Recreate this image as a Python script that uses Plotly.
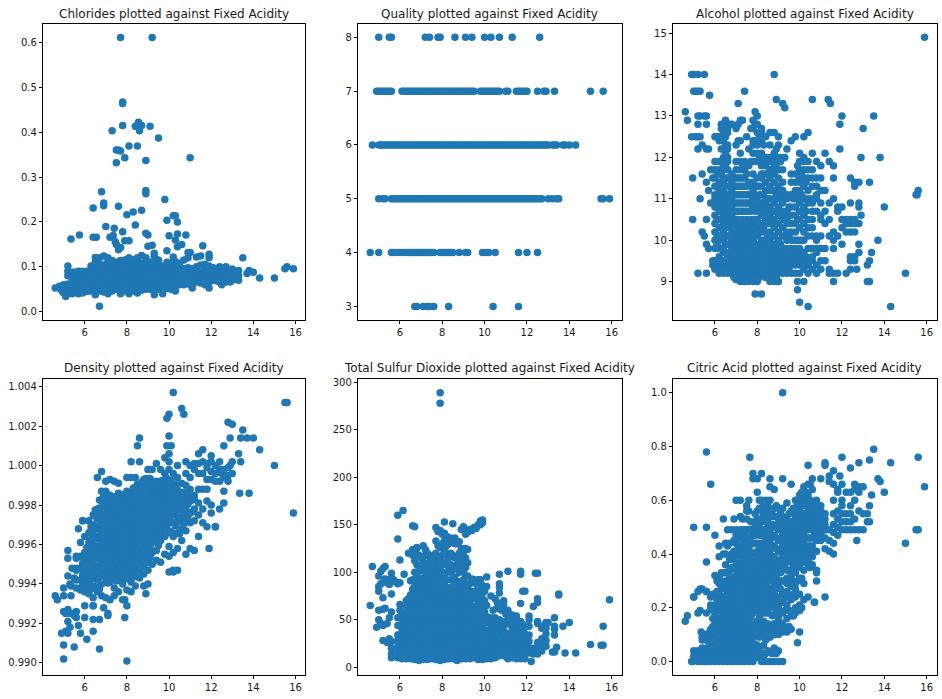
import plotly.graph_objects as go

# ---------- data: (fixed acidity, [values...]) columns plus stray points ----------
chlorides_cols = [
 (5.0,[.045,.052,.06]),(5.2,[.042,.05,.062,.08,.09,.102]),(5.4,[.04,.05,.06,.075,.088]),(5.5,[.044,.056,.07,.088]),(5.7,[.04,.052,.064,.078,.09]),
 (5.9,[.042,.055,.067,.08,.09]),(6.1,[.045,.058,.07,.082,.09]),(6.3,[.046,.057,.068,.08,.092,.102]),
 (6.5,[.038,.05,.062,.074,.086,.098,.11,.121]),(6.7,[.046,.058,.07,.082,.094,.106,.12]),
 (6.9,[.044,.056,.068,.08,.092,.104,.124]),(7.1,[.04,.052,.064,.076,.088,.1,.112,.12]),
 (7.3,[.046,.058,.07,.082,.094,.106,.114]),(7.5,[.05,.062,.074,.086,.098,.11]),
 (7.7,[.04,.054,.066,.078,.09,.102,.114]),(7.9,[.046,.058,.07,.082,.094,.106,.115]),
 (8.1,[.04,.052,.064,.076,.088,.1,.112,.12]),(8.3,[.046,.058,.07,.082,.094,.106,.116]),
 (8.5,[.042,.054,.066,.078,.09,.102,.114,.12]),(8.7,[.048,.06,.072,.084,.096,.108,.125]),
 (8.9,[.05,.062,.074,.086,.098,.11,.12]),(9.1,[.05,.062,.074,.086,.098,.11]),
 (9.3,[.054,.066,.078,.09,.102,.11]),(9.5,[.05,.062,.074,.086,.098,.108]),
 (9.7,[.056,.068,.08,.092,.102]),(9.9,[.052,.064,.076,.088,.1,.11]),
 (10.1,[.05,.062,.074,.086,.098,.108]),(10.3,[.056,.068,.08,.092,.102,.112]),
 (10.5,[.06,.072,.084,.096,.108]),(10.7,[.06,.072,.084,.096,.115]),
 (10.9,[.062,.074,.086,.098,.12]),(11.1,[.06,.072,.084,.096]),(11.3,[.066,.078,.09,.1]),
 (11.5,[.064,.076,.088,.104]),(11.7,[.06,.072,.084,.096,.106]),(11.9,[.066,.078,.09,.102]),
 (12.1,[.07,.08,.09,.098]),(12.3,[.068,.08,.09]),(12.5,[.06,.072,.084,.094]),
 (12.7,[.066,.078,.09]),(12.9,[.066,.078,.09]),(13.1,[.072,.084]),(13.3,[.07,.08]),
]
chlorides_extra_x = [7.7,9.2,7.8,7.8,7.3,7.8,8.4,8.55,8.6,8.7,8.6,8.5,9.1,9.5,7.5,7.6,7.7,8.1,8.5,7.9,7.5,8.9,11.0,6.8,8.9,8.9,9.8,6.9,6.9,6.4,7.6,8.0,8.3,8.7,10.2,10.3,9.9,10.4,7.0,8.4,7.4,7.8,8.9,9.0,5.35,5.75,6.4,6.55,7.2,7.35,7.45,7.5,7.9,8.1,10.0,10.3,10.4,10.8,10.6,10.4,9.0,9.2,7.6,7.7,9.9,11.6,9.3,9.3,9.5,10.2,10.9,11.0,11.3,11.5,11.9,11.9,13.5,15.5,15.6,15.9,14.3,15.0,14.0,13.8,13.7,13.3,13.0,12.7,12.4,6.7,5.1,4.6,4.8,4.9,5.0,9.3,9.7,10.3,11.9,11.1]
chlorides_extra_y = [.611,.611,.467,.464,.403,.415,.413,.422,.415,.415,.403,.415,.413,.387,.36,.36,.358,.369,.369,.343,.332,.337,.343,.267,.27,.263,.25,.242,.236,.231,.235,.216,.222,.226,.214,.214,.204,.2,.19,.193,.186,.178,.175,.171,.162,.171,.166,.166,.166,.17,.156,.15,.158,.158,.169,.16,.173,.171,.15,.145,.146,.148,.138,.143,.136,.147,.13,.123,.115,.122,.132,.132,.122,.124,.128,.12,.12,.096,.1,.096,.075,.075,.088,.092,.085,.092,.095,.1,.1,.012,.034,.053,.057,.048,.042,.038,.04,.046,.053,.053]

quality_3 = [6.7,6.8,7.1,7.3,7.4,7.6,8.3,10.4,11.6]
quality_4 = [4.6,5.0,5.6,5.7,5.8,6.0,6.2,6.3,6.4,6.5,6.6,6.7,6.8,6.9,7.0,7.1,7.2,7.3,7.4,7.5,7.6,7.9,8.0,8.1,8.2,8.3,8.4,8.5,8.8,9.1,9.2,9.9,10.1,10.2,10.5,11.6,12.0,12.5]
quality_5 = [5.0,5.2,5.3,5.6,5.7,5.8,5.9,6.0,6.1,6.2,6.3,6.4,6.5,6.6,6.7,6.8,6.9,7.0,7.1,7.2,7.3,7.4,7.5,7.6,7.7,7.8,7.9,8.0,8.1,8.2,8.3,8.4,8.5,8.6,8.7,8.8,8.9,9.0,9.1,9.2,9.3,9.4,9.5,9.6,9.7,9.8,9.9,10.0,10.1,10.2,10.3,10.4,10.5,10.6,10.7,10.8,10.9,11.0,11.1,11.2,11.3,11.4,11.5,11.6,11.7,11.8,11.9,12.0,12.1,12.2,12.3,12.4,12.5,12.6,12.7,13.0,13.2,13.4,13.5,15.5,15.6,15.9]
quality_6 = [4.7,5.0,5.1,5.2,5.3,5.4,5.5,5.6,5.7,5.8,5.9,6.0,6.1,6.2,6.3,6.4,6.5,6.6,6.7,6.8,6.9,7.0,7.1,7.2,7.3,7.4,7.5,7.6,7.7,7.8,7.9,8.0,8.1,8.2,8.3,8.4,8.5,8.6,8.7,8.8,8.9,9.0,9.1,9.2,9.3,9.4,9.5,9.6,9.7,9.8,9.9,10.0,10.1,10.2,10.3,10.4,10.5,10.6,10.7,10.8,10.9,11.0,11.1,11.2,11.3,11.4,11.5,11.6,11.7,11.8,11.9,12.0,12.1,12.2,12.3,12.4,12.5,12.6,12.7,12.8,12.9,13.0,13.2,13.3,13.4,13.7,13.8,14.0,14.3]
quality_7 = [4.9,5.0,5.1,5.2,5.3,5.4,5.5,5.6,6.1,6.2,6.3,6.4,6.5,6.6,6.7,6.8,6.9,7.0,7.1,7.2,7.3,7.4,7.5,7.6,7.7,7.8,7.9,8.0,8.1,8.2,8.3,8.4,8.5,8.6,8.7,8.8,8.9,9.0,9.1,9.2,9.3,9.4,9.5,9.8,9.9,10.0,10.1,10.2,10.3,10.4,10.5,10.6,10.7,11.0,11.1,11.5,11.6,11.7,11.8,11.9,12.0,12.5,12.8,12.9,13.3,15.0,15.6]
quality_8 = [5.0,5.5,5.6,7.2,7.4,7.8,7.9,8.6,9.1,9.4,10.0,10.3,10.7,11.3,12.6]

alcohol_cols = [
 (6.0,[9.5,9.8,10.2,10.6,10.8,11.1,11.5,11.7]),(6.2,[9.2,9.4,10.0,10.3,10.7,11.0,11.4,11.6,11.9]),
 (6.4,[9.2,9.4,9.7,10.0,10.4,10.6,10.9,11.2,11.4,11.7,12.0,12.4,12.8]),
 (6.6,[9.2,9.4,9.6,9.9,10.1,10.4,10.6,10.8,11.0,11.3,11.5,11.7,12.0,12.2,12.6]),
 (6.8,[9.2,9.4,9.6,9.8,10.0,10.2,10.4,10.6,10.8,11.0,11.2,11.4]),
 (7.0,[9.05,9.2,9.4,9.6,9.8,10.0,10.2,10.4,10.5,10.7,10.9,11.1,11.3,11.5,11.9]),
 (7.2,[9.0,9.2,9.4,9.6,9.8,10.0,10.2,10.4,10.7,10.9,11.1,11.3,11.5,12.1,12.4]),
 (7.4,[9.0,9.2,9.4,9.6,9.8,10.0,10.2,10.4,10.7,10.9,11.1,11.3,11.5,11.7,11.9]),
 (7.6,[9.0,9.2,9.4,9.6,9.8,10.0,10.2,10.4,10.7,10.9,11.1,11.4,11.8,12.2]),
 (7.8,[9.0,9.2,9.4,9.6,9.8,10.0,10.2,10.4,10.8,11.0,11.2,11.9,12.1,12.4,12.7]),
 (8.0,[9.0,9.2,9.4,9.6,9.8,10.1,10.3,10.5,10.8,11.0,11.3,12.3,12.8]),
 (8.2,[9.2,9.4,9.6,9.8,10.0,10.4,10.6,10.9,11.1,11.5,11.8,12.1,12.4,12.7]),
 (8.4,[9.1,9.3,9.5,9.7,9.9,10.2,10.5,10.9,11.2,11.4,11.8,12.0,12.5]),
 (8.6,[9.0,9.2,9.4,9.6,9.8,10.2,10.4,10.6,11.0,11.3,11.7,12.0,12.6]),
 (8.8,[9.0,9.2,9.4,9.6,9.9,10.3,10.5,10.9,11.2,11.6,11.9,12.1,12.6]),
 (9.0,[9.2,9.4,9.6,9.8,10.2,10.4,10.8,11.0,11.3,11.7,12.0,12.3,12.5]),
 (9.2,[9.4,9.6,9.8,10.3,10.5,10.9,11.2,11.7,12.0]),(9.4,[9.2,9.4,9.6,10.0,10.4,10.7,11.0,12.2]),
 (9.6,[9.4,9.6,9.8,10.0,10.2,10.6,11.4,12.4]),(9.8,[9.4,9.6,9.8,10.0,10.4,10.8,11.2,11.6,12.5]),
 (10.0,[9.4,9.6,9.8,10.0,10.3,10.7,11.0,11.4,11.7,12.1]),(10.2,[9.3,9.5,10.0,10.4,10.8,11.3,11.7,12.0,12.5]),
 (10.4,[9.2,9.5,9.8,10.3,10.9,11.2,11.5,11.9,12.6]),(10.6,[9.3,9.6,10.1,10.5,10.9,11.3,11.7,12.1]),
 (10.8,[9.4,9.7,10.0,10.7,11.1,11.5,11.9]),(11.0,[9.5,10.1,10.5,10.9,11.5,11.8]),
 (11.2,[9.5,9.8,10.4,10.7,11.2,12.1]),(11.4,[9.2,9.3,10.1,10.5,10.9,11.9]),
 (11.6,[9.2,9.0,9.8,10.0,10.2,11.0,11.5,11.8]),(11.8,[9.2,10.1,10.8,10.7]),(12.0,[9.9,10.3,10.5,10.8]),
 (12.2,[9.2,10.2,10.4,10.5]),(12.4,[9.3,9.5,9.6,10.2,10.4,10.5,10.9,11.5]),
 (12.6,[9.5,9.6,10.2,10.4,10.5,11.4,11.3]),(12.8,[9.7,9.9,10.4,10.8,10.9,11.4]),
]
alcohol_fill = [
 (5.9,[9.4,9.5]),(6.1,[9.3,9.5,9.9,10.1,10.5,10.9,11.3,11.6]),(6.3,[9.3,9.5,9.8,10.1,10.3,10.5,10.8,11.1,11.3,11.6,11.9,12.2,12.7]),
 (6.5,[9.3,9.5,9.7,9.9,10.1,10.3,10.5,10.7,10.9,11.1,11.3,11.5,11.8,12.1,12.3,12.5,12.9]),
 (6.7,[9.3,9.5,9.7,9.9,10.1,10.3,10.5,10.7,10.9,11.1,11.3,11.5,12.8]),
 (6.9,[9.1,9.3,9.5,9.7,9.9,10.1,10.3,10.5,10.7,10.9,11.1,11.3,11.5]),
 (7.1,[9.1,9.3,9.5,9.7,9.9,10.1,10.3,10.5,10.7,10.9,11.1,11.3,11.5,12.4,12.8]),
 (7.3,[9.1,9.3,9.5,9.7,9.9,10.1,10.3,10.5,10.7,10.9,11.1,11.3,11.5,11.8,12.9]),
 (7.5,[9.1,9.3,9.5,9.7,9.9,10.1,10.3,10.5,10.7,10.9,11.1,11.3,11.6,12.5]),
 (7.7,[9.1,9.3,9.5,9.7,9.9,10.1,10.3,10.5,10.7,10.9,11.1,11.3,11.9,12.7]),
 (7.9,[9.1,9.3,9.5,9.7,9.9,10.1,10.3,10.5,10.7,10.9,11.1,11.3,12.4,12.8]),
 (8.1,[9.1,9.3,9.5,9.7,9.9,10.2,10.4,10.7,10.9,11.1,11.3,12.0,12.5]),
 (8.3,[9.2,9.4,9.6,9.8,10.0,10.3,10.6,10.8,11.1,11.6,11.9,12.3]),
 (8.5,[9.1,9.3,9.5,9.7,9.9,10.1,10.4,10.7,11.0,11.6,11.9]),(8.7,[9.1,9.3,9.5,9.7,10.1,10.5,11.2,11.7,12.0]),
 (8.9,[9.1,9.3,9.5,9.7,10.4,10.7,11.1,11.8,12.2]),(9.1,[9.3,9.5,9.7,9.9,10.6,11.1,11.9]),
 (9.3,[9.3,9.5,9.7,10.1,10.6,12.0]),(9.5,[9.3,9.5,9.7,10.1,10.8]),(9.7,[9.5,9.7,10.0,11.0]),
 (9.9,[9.5,9.7,10.0,10.5,11.1,11.8]),(10.1,[9.5,9.7,10.0,11.1,11.6]),(10.3,[9.4,9.6,10.7,11.4]),
]
alcohol_fill_2 = [
 (6.0,[9.3,10.0,10.4,11.0,11.3,11.9]),(6.2,[9.6,9.8,10.1,10.5,10.9,11.2,11.7,12.5]),(6.4,[9.5,9.8,10.2,11.0,11.5,11.8,12.2,12.6]),
 (6.6,[11.1,11.9,12.3,12.7]),(6.8,[11.6,12.8]),(7.0,[11.7,12.3,12.7]),(7.2,[11.7,11.9,12.9]),
 (7.8,[11.4,11.6,12.3,12.9]),(8.0,[11.5,11.9,12.1,12.6]),(8.2,[10.2,11.3,11.6,12.6]),(8.4,[10.0,10.4,10.7,11.0,11.6]),
 (8.6,[10.0,10.8,11.2,11.5,11.9,12.3]),(8.8,[9.8,10.1,10.7,11.0,11.4,11.8]),(9.0,[9.0,10.0,10.6,11.2,11.5,11.9]),
 (9.2,[9.2,10.1,10.7,11.0,11.4]),(9.4,[9.8,10.2,10.5,11.1]),(9.6,[9.2,10.4,10.8,11.1,11.6]),(9.8,[9.2,10.2,10.6,11.0,11.4]),
 (10.0,[9.2,10.5,10.9,11.2,11.5,11.9]),(10.2,[9.7,10.2,10.6,11.0,11.5,11.9]),(10.4,[9.4,10.1,10.5,11.0,11.7]),
 (10.6,[9.5,9.8,10.3,10.7,11.0,11.5]),(10.8,[9.2,9.8,10.1,11.0,11.3]),(11.0,[9.3,9.8,10.6,11.2]),
]
alcohol_extra_x = [4.6,4.7,4.9,5.0,5.2,5.5,5.0,5.2,5.3,5.1,5.75,5.2,5.3,5.5,5.6,5.2,5.6,4.9,5.2,5.3,5.1,5.2,5.4,5.6,4.95,5.4,5.6,5.3,4.95,5.6,5.4,5.5,5.6,5.7,5.2,5.6,5.7,5.8,5.9,5.8,5.7,6.0,6.1,6.2,6.3,7.1,7.4,8.8,7.9,8.0,8.9,9.2,9.3,10.6,11.35,11.45,11.9,12.0,13.5,13.0,12.9,11.9,13.8,13.3,14.0,15.5,15.6,15.55,15.0,15.9,14.3,13.7,13.4,13.3,13.2,13.3,13.2,12.7,10.0,9.9,9.9,10.4,10.2,7.9,8.2,12.9]
alcohol_extra_y = [13.1,12.9,14.0,14.0,14.0,14.0,13.6,13.6,13.6,13.6,13.5,13.0,13.0,13.0,13.0,12.8,12.8,12.5,12.5,12.5,12.5,12.2,12.3,12.2,11.5,11.6,11.4,11.0,10.5,10.5,10.2,10.1,9.9,9.8,9.2,9.2,11.2,10.9,11.5,11.7,12.2,12.5,12.5,12.4,12.8,13.3,13.6,14.0,13.1,13.0,13.4,13.3,13.2,13.4,13.4,13.3,12.8,13.0,13.0,12.7,12.0,12.2,12.0,11.4,10.8,11.1,11.2,11.1,9.2,14.9,8.4,10.0,9.7,9.5,9.4,9.0,9.0,9.3,8.5,8.8,9.0,8.4,9.0,8.7,8.7,10.6]

density_cols = [
 (5.6,[.9938,.9942,.9948,.9953]),(5.8,[.9937,.9942,.9948,.9954,.9961]),(6.0,[.9936,.9941,.9946,.9951,.9956,.9964]),
 (6.2,[.9935,.994,.9946,.9951,.9956,.9961,.9966,.9972]),(6.4,[.9933,.9939,.9945,.995,.9955,.996,.9965,.997,.9975]),
 (6.6,[.9936,.9942,.9948,.9953,.9958,.9963,.9968,.9973,.9978,.9994]),(6.8,[.9934,.994,.9946,.9951,.9956,.9961,.9966,.9971,.9976,.9982,.9987,.9997]),
 (7.0,[.9933,.9943,.9948,.9953,.9958,.9963,.9968,.9973,.9978,.9983,.9987,.9992]),
 (7.2,[.9932,.9941,.9946,.9951,.9956,.9961,.9966,.9971,.9976,.9981,.9985,.9993]),
 (7.4,[.9934,.9938,.9944,.9949,.9954,.9959,.9964,.9969,.9974,.9979,.9984,.9992]),
 (7.6,[.9936,.9942,.9947,.9952,.9957,.9962,.9967,.9972,.9977,.9982,.9986,.9991]),
 (7.8,[.9932,.994,.9945,.995,.9955,.996,.9965,.997,.9975,.998,.9985]),
 (8.0,[.9937,.9943,.9948,.9953,.9958,.9963,.9968,.9973,.9978,.9983,.9987,.9994]),
 (8.2,[.9936,.9941,.9946,.9951,.9956,.9961,.9966,.9971,.9976,.9981,.9986,.9994,1.0002]),
 (8.4,[.9939,.9944,.9949,.9954,.9959,.9964,.9969,.9974,.9979,.9984,.9989,.9994]),
 (8.6,[.9943,.9948,.9953,.9958,.9963,.9968,.9973,.9978,.9983,.9988,1.0002]),
 (8.8,[.9939,.9945,.995,.9955,.996,.9965,.997,.9975,.998,.9985,.999,.9993]),
 (9.0,[.994,.9947,.9952,.9957,.9962,.9967,.9972,.9977,.9982,.9987,.9992,.9998]),
 (9.2,[.995,.9956,.9961,.9966,.9971,.9976,.9981,.9986,.9991,.9998]),
 (9.4,[.9952,.9957,.9963,.9968,.9973,.9978,.9983,.9988,.9992,1.0001]),
 (9.6,[.9951,.9962,.9967,.9972,.9977,.9982,.9987,.9992,.9998]),
 (9.8,[.9955,.9964,.997,.9975,.998,.9985,.999,.9996,1.0004]),
 (10.0,[.9946,.9954,.9959,.9966,.9971,.9976,.9981,.9986,.9991,.9998,1.0002,1.0006]),
 (10.2,[.9946,.9947,.9956,.9964,.9975,.998,.9985,.999,.9996]),
 (10.4,[.9947,.9958,.9966,.9972,.9978,.9983,.9988,.9994,1.0]),
 (10.6,[.9962,.9968,.9974,.998,.9985,.9991]),(10.8,[.9955,.9967,.9973,.9978,.9984,.999,.9996,1.0002]),
 (11.0,[.9958,.9971,.9976,.9982,.9988,.9994,1.0]),(11.2,[.9957,.9972,.9978,.9983,.9985,.9998,1.0001]),
 (11.4,[.9964,.9975,.9981,.9988,.9996,1.0001,1.0006]),(11.6,[.9971,.9978,.9988,.9996,1.0002,1.0008]),
 (11.8,[.9969,.9982,.9988,.9993,.9999,1.0001]),(12.0,[.9976,.998,.9993,.9997,1.0002,1.0005]),
 (12.2,[.9969,.9992,.9996,1.0]),(12.4,[.9978,.9992,.9998,1.0002]),(12.6,[.9981,.9987,.9994,.9998,1.001]),
 (12.8,[.9992,.9995,.9999]),(13.0,[.9996,1.0002]),
]
density_fill = [
 (5.9,[.99395,.99445,.99505]),(6.1,[.99385,.99435,.99485,.99535,.99585]),
 (6.3,[.99375,.99425,.99475,.99525,.99575,.99625,.99675,.99695]),
 (6.5,[.99385,.99445,.99495,.99545,.99595,.99645,.99695,.99745,.99775]),
 (6.7,[.99375,.99435,.99485,.99535,.99585,.99635,.99685,.99735,.99785,.99825]),
 (6.9,[.99445,.99495,.99545,.99595,.99645,.99695,.99745,.99795,.99845,.99865]),
 (7.1,[.99405,.99455,.99505,.99555,.99605,.99655,.99705,.99755,.99805,.99845]),
 (7.3,[.99435,.99485,.99535,.99585,.99635,.99685,.99735,.99785,.99835]),
 (7.5,[.99415,.99465,.99515,.99565,.99615,.99665,.99715,.99765,.99815,.99845]),
 (7.7,[.99445,.99495,.99545,.99595,.99645,.99695,.99745,.99795,.99835]),
 (7.9,[.99425,.99475,.99525,.99575,.99625,.99675,.99725,.99775,.99825,.99855]),
 (8.1,[.99455,.99505,.99555,.99605,.99655,.99705,.99755,.99805,.99855]),
 (8.3,[.99435,.99485,.99535,.99585,.99635,.99685,.99735,.99785,.99835,.99885]),
 (8.5,[.99465,.99515,.99565,.99615,.99665,.99715,.99765,.99815,.99865,.99905]),
 (8.7,[.99485,.99535,.99585,.99635,.99685,.99735,.99785,.99835,.99885,.99915]),
 (8.9,[.99505,.99555,.99605,.99655,.99705,.99755,.99805,.99855,.99905,.99935]),
 (9.1,[.99535,.99585,.99635,.99685,.99735,.99785,.99835,.99885,.99935]),
 (9.3,[.99615,.99665,.99715,.99765,.99815,.99865,.99915]),
 (9.5,[.99595,.99645,.99695,.99745,.99795,.99845,.99895]),
 (9.7,[.99675,.99725,.99775,.99825,.99875,.99925]),
 (9.9,[.99685,.99735,.99785,.99835,.99885,.99935]),
 (10.1,[.99665,.99715,.99775,.99825,.99875,.99925]),
 (10.3,[.99695,.99755,.99805,.99855,.99905]),(10.5,[.99655,.99715,.99775,.99825,.99865]),
 (10.7,[.99705,.99755,.99815,.99865]),(10.9,[.99745,.99805,.99855]),(11.1,[.99765,.99825]),
]
density_extra_x = [4.6,4.7,5.0,5.0,5.0,5.0,4.9,5.1,5.2,5.2,5.2,5.0,5.1,5.2,5.3,5.4,5.5,5.6,5.6,5.5,5.7,5.8,6.0,6.0,6.1,5.35,5.35,5.2,5.2,5.2,5.6,5.6,5.9,6.4,6.4,6.7,6.4,6.4,6.7,6.9,7.1,7.1,7.9,8.0,7.9,8.0,5.4,5.3,5.5,5.7,5.9,15.5,15.6,15.9,15.0,14.3,14.0,13.7,13.4,12.9,13.5,13.3,13.4,13.35,13.8,12.8,13.0,10.2,10.7,10.6,10.0,9.9,8.6,8.5,9.9,10.0,10.1,12.5,11.9,12.2,12.9,8.9]
density_extra_y = [.9934,.9932,.9938,.9934,.9909,.9902,.9915,.9916,.9915,.9921,.9927,.9926,.9925,.9925,.9918,.9925,.9924,.9926,.9923,.9908,.9919,.9915,.9929,.9923,.9912,.9934,.9939,.9944,.9953,.9957,.9954,.9947,.9972,.9929,.9922,.9907,.9916,.9929,.9922,.9928,.9925,.9924,.9923,.9901,.9932,.9929,.9948,.994,.9943,.9968,.9972,1.0032,1.0032,.9976,1.0,1.0008,1.0014,1.0014,1.0014,1.0014,1.0018,1.0006,1.0002,.9986,.9986,1.0022,1.0021,1.0037,1.0026,1.0029,1.0026,1.0024,1.0014,1.001,1.001,1.0015,1.001,.9996,.9958,.9969,1.0,.9935]

tsd_cols = [
 (5.6,[10,14,20,27]),(5.9,[10,16,22,28,34,44,52]),(6.1,[9,15,21,27,33,39,45,51,57]),
 (6.3,[9,15,21,27,33,39,45,51,57,64,70]),(6.5,[9,15,21,27,33,39,45,51,57,63,69,76]),
 (6.7,[8,14,20,26,32,38,44,50,56,62,68,74,80,86,100,112,122]),(6.9,[7,13,19,25,31,37,43,49,55,61,67,73,84,101,118]),
 (7.1,[8,14,20,26,32,38,44,50,56,62,68,74,80,88,94,111,128]),(7.3,[8,14,20,26,32,38,44,50,56,62,68,74,82,90,98,106,120]),
 (7.5,[9,15,21,27,33,39,45,51,57,63,69,75,81,87,93,99,105]),(7.7,[8,14,20,26,32,38,44,50,56,62,68,76,84,92,100,108,120,133,147]),
 (7.9,[7,13,19,25,31,37,43,49,55,61,67,77,85,93,105,115,126,144]),(8.1,[8,14,20,26,32,38,44,50,56,62,68,78,88,98,110,122,133,141,153]),
 (8.3,[9,15,21,27,33,39,45,51,57,63,69,80,102,115,130]),(8.5,[9,15,21,27,33,39,45,51,57,63,69,75,82,91,103,118,134,151]),
 (8.7,[7,13,19,25,31,37,43,49,55,61,67,73,79,87,108,130]),(8.9,[9,15,21,27,33,39,45,51,57,63,69,75,84,104,113,125,145]),
 (9.1,[9,15,21,27,33,39,45,51,57,63,69,76,88,96,105,115,125,140]),(9.3,[9,15,21,27,33,39,45,51,57,63,70,88,145]),
 (9.5,[10,16,22,28,34,40,46,52,58,64,72,92,147]),(9.7,[8,14,20,26,32,38,44,50,56,62,68,84,92,150]),
 (9.9,[8,14,20,26,32,38,44,52,60,66,72,78,86,152,155]),(10.1,[9,15,21,27,33,39,47,53,65,85,95]),
 (10.3,[9,16,22,28,36,44,52,75]),(10.5,[10,16,22,30,38,52,72]),(10.7,[12,18,24,35,40,50,78,84,88,98]),
 (10.9,[14,20,28,38,44,66,70]),(11.1,[9,14,20,26,33,50,60,101]),(11.3,[10,16,22,42,48,55]),
 (11.5,[9,15,21,27,34,42,50,54]),(11.7,[9,15,21,28,35,40,48,67,98,101]),(11.9,[9,15,22,28,35,42,80]),
 (12.1,[15,20,27,34,43,50,54]),(12.3,[14,20,64]),(12.5,[14,20,26,46,48,68,72,99]),(12.7,[17,24,30,41,43]),
 (12.9,[22,28,35,41,47]),(13.3,[34,40,43,52,16]),
]
tsd_fill = [
 (6.0,[60,66]),(6.4,[72,60]),(6.6,[74,82,92,118]),(6.8,[72,80,90,96,108,126]),(7.0,[76,84,92,104,115]),
 (7.2,[72,84,93,100,108,118,124]),(7.4,[78,86,95,102,110,116]),(7.6,[74,82,90,98,106,112,118]),
 (7.8,[72,80,88,96,104,114,128,143]),(8.0,[74,82,90,100,108,118,130,140]),(8.2,[72,84,92,100,108,118,128,138]),
 (8.4,[75,84,92,100,108,120,136]),(8.6,[78,86,95,105,115,130,136]),(8.8,[82,90,100,112,120,132]),
 (9.0,[80,92,100,110,118,148]),(9.2,[74,82,96,110,124,142]),(9.4,[74,80,93,144]),(9.6,[74,80,88,146]),(9.8,[74,80,92,150,154]),
 (10.0,[12,24,36,48,58,70,80]),(10.4,[12,19,25,33,41,48,60]),(10.6,[13,20,27,34,46,62,68]),(10.8,[15,22,31,42,48,60]),
 (11.0,[11,17,24,31,48,56]),(11.2,[12,18,29,36,45]),(11.4,[12,18,24,31,38,47]),(11.6,[12,18,25,31,37,46]),(11.8,[12,18,25,32,38,45]),
]
tsd_extra_x = [7.9,7.9,6.15,5.9,6.6,6.7,5.9,6.0,4.7,4.6,5.0,5.0,5.1,5.2,5.2,5.3,5.0,5.0,5.1,5.2,5.3,5.4,5.5,5.6,5.6,5.7,5.8,5.9,6.0,6.2,6.5,5.6,5.2,4.9,5.0,5.1,5.2,5.3,5.4,5.5,5.6,5.2,5.4,5.5,6.6,6.8,6.4,12.2,13.2,13.4,13.8,14.3,15.0,15.5,15.6,15.9,15.6,14.0,13.7,13.5,13.0,13.5,11.8,12.4]
tsd_extra_y = [289,278,165,160,149,148,135,113,106,65,96,60,101,104,73,106,85,80,88,89,93,91,87,99,94,92,90,88,89,98,91,77,61,42,50,46,44,62,46,52,58,28,26,30,124,125,120,6,16,21,15,15,24,23,23,71,43,47,43,77,47,76,80,99]

citric_cols = [
 (5.6,[0,.02,.05,.08,.1,.18,.26]),(5.8,[0,.03,.06,.09,.12,.2,.24]),(6.0,[0,.03,.06,.09,.14,.18,.21,.25,.32,.47]),
 (6.2,[0,.02,.05,.08,.11,.15,.19,.22,.25,.29,.31,.39,.43]),(6.4,[0,.03,.06,.09,.12,.15,.18,.21,.24,.28,.33,.4,.53]),
 (6.6,[0,.02,.05,.08,.11,.14,.17,.2,.23,.26,.3,.33,.43,.49]),
 (6.8,[0,.03,.06,.09,.12,.15,.18,.21,.24,.27,.3,.35,.4,.49]),
 (7.0,[0,.02,.05,.08,.11,.14,.17,.2,.23,.26,.29,.32,.36,.4,.44,.49]),
 (7.2,[0,.03,.06,.09,.12,.15,.18,.21,.24,.27,.3,.33,.36,.39,.42,.46,.49,.54,.6]),
 (7.4,[0,.02,.05,.08,.11,.14,.17,.2,.23,.26,.29,.32,.35,.38,.41,.44,.47,.49]),
 (7.6,[0,.03,.06,.09,.12,.15,.18,.21,.24,.27,.3,.33,.36,.39,.42,.49,.56,.6]),
 (7.8,[0,.02,.05,.09,.12,.18,.21,.24,.27,.3,.33,.36,.4,.44,.49,.68,.7]),
 (8.0,[.02,.06,.15,.19,.22,.25,.28,.31,.34,.37,.41,.44,.49,.53,.56,.63,.68]),
 (8.2,[0,.03,.1,.13,.18,.21,.24,.27,.3,.33,.36,.4,.44,.47,.49,.52,.6,.7]),
 (8.4,[0,.03,.08,.12,.18,.22,.26,.29,.32,.35,.39,.43,.46,.49,.53,.56,.6]),
 (8.6,[0,.09,.12,.2,.24,.27,.31,.34,.37,.41,.45,.47,.49,.51,.6,.65,.68]),
 (8.8,[0,.05,.1,.14,.21,.25,.29,.33,.36,.39,.43,.47,.5,.54,.57,.64]),
 (9.0,[0,.04,.1,.12,.16,.2,.24,.28,.34,.37,.41,.45,.49,.52,.57]),
 (9.2,[.0,.11,.14,.18,.22,.25,.3,.35,.39,.43,.47,.5,.54,.57,.68]),
 (9.4,[.11,.21,.26,.31,.37,.42,.45,.49,.53,.59]),(9.6,[.12,.17,.23,.28,.32,.37,.41,.45,.49,.52,.56,.66]),
 (9.8,[.18,.2,.24,.29,.33,.38,.42,.46,.5,.54,.6]),(10.0,[.11,.19,.21,.31,.35,.41,.45,.49,.53,.58]),
 (10.2,[.23,.29,.34,.38,.42,.46,.49,.52,.58,.62,.65]),(10.4,[.24,.4,.43,.46,.49,.53,.57,.62,.73]),
 (10.6,[.36,.39,.43,.46,.49,.53,.59,.64,.68]),(10.8,[.3,.34,.45,.49,.53,.57]),
 (11.0,[.49,.53,.55,.58,.68]),(11.2,[.24,.42,.46,.49,.53,.55,.73,.74]),(11.4,[.41,.45,.49,.67,.69]),
 (11.6,[.4,.44,.48,.51,.55,.6,.66,.71]),(11.8,[.47,.5,.53,.56,.64,.63]),(12.0,[.49,.52,.55,.58,.6,.66,.76]),
 (12.2,[.49,.52,.55,.63]),(12.4,[.49,.52,.55,.58,.63]),(12.6,[.49,.53,.6,.64,.66]),(12.8,[.49,.56,.63,.65,.74]),
 (13.0,[.49,.55,.65]),(13.2,[.52,.55]),(13.3,[.52,.58,.75]),
]
citric_fill = [
 (5.7,[.015,.045,.075,.105]),(5.9,[.015,.045,.075,.105,.19]),(6.1,[.015,.045,.075,.105,.16,.23,.3]),
 (6.3,[.015,.045,.075,.105,.135,.165,.2,.27]),(6.5,[.015,.035,.065,.095,.125,.155,.185,.215,.245,.275,.33]),
 (6.7,[.015,.035,.065,.095,.125,.155,.185,.215,.245,.275,.31]),
 (6.9,[.015,.045,.075,.105,.135,.165,.195,.225,.255,.285,.315,.345,.38]),
 (7.1,[.015,.035,.065,.095,.125,.155,.185,.215,.245,.275,.305,.335,.365,.395,.43]),
 (7.3,[.015,.045,.075,.105,.135,.165,.195,.225,.255,.285,.315,.345,.375,.405,.435,.47]),
 (7.5,[.015,.035,.065,.095,.125,.155,.185,.215,.245,.275,.305,.335,.365,.395,.425,.455,.56]),
 (7.7,[.015,.045,.075,.105,.135,.165,.195,.225,.255,.285,.315,.345,.375,.405,.435,.465]),
 (7.9,[.015,.035,.065,.105,.195,.225,.255,.285,.315,.345,.375,.405,.44,.47,.52,.55]),
 (8.1,[.015,.045,.165,.2,.235,.265,.295,.325,.355,.39,.43,.5,.6]),
 (8.3,[.02,.11,.19,.225,.255,.285,.315,.345,.38,.42,.49,.53]),
 (8.5,[.04,.1,.14,.21,.245,.275,.305,.335,.365,.4,.44,.51,.55]),
 (8.7,[.03,.1,.13,.23,.26,.3,.33,.36,.39,.43,.47,.51,.54]),
 (8.9,[.03,.11,.19,.23,.27,.31,.35,.38,.42,.46,.5,.54]),
 (9.1,[.13,.18,.22,.27,.3,.33,.37,.41,.45,.49,.53]),
 (9.3,[.12,.19,.25,.3,.35,.4,.44,.48,.52]),(9.5,[.13,.19,.24,.29,.34,.39,.43,.47,.51,.55]),
 (9.7,[.17,.25,.3,.35,.4,.44,.48,.52,.57]),(9.9,[.19,.3,.36,.4,.44,.48,.52,.56,.59]),
 (10.1,[.2,.31,.37,.43,.47,.51,.55,.6,.63]),(10.3,[.42,.46,.5,.54,.58,.63]),
 (10.5,[.35,.43,.46,.5,.54,.6,.66]),(10.7,[.47,.5,.54,.58,.22]),(10.9,[.47,.51,.55,.53]),
]
citric_fill_2 = [
 (5.2,[.0,.015]),(5.4,[.0,.02,.05,.09]),(5.5,[.0,.04,.1]),(5.9,[.13,.16,.25]),(6.1,[.13,.19,.21,.26]),
 (6.3,[.23,.3,.33]),(6.5,[.3,.36,.4,.44]),(6.7,[.34,.38,.44]),(6.9,[.41,.45,.53]),(7.0,[.47,.6]),
 (7.3,[.49,.53]),(7.5,[.49,.53,.58]),(7.7,[.49,.52]),(7.9,[.11,.14,.5]),(8.1,[.09,.12,.47,.53,.57]),
 (8.3,[.06,.15,.47,.55,.58]),(8.5,[.18,.47,.53,.58]),(8.7,[.17,.2,.56]),(8.9,[.14,.17,.58]),(9.1,[.24,.56]),
 (9.4,[.16,.24,.29,.34]),(9.8,[.27,.36,.4,.44]),(10.0,[.25,.38,.43,.47,.51,.56,.62]),(10.2,[.37,.4,.44,.48,.55,.6]),
 (10.4,[.36,.38,.51,.55,.6,.66]),(10.6,[.41,.51,.56]),(10.8,[.33,.41,.47,.51,.55,.6]),(11.0,[.45,.47,.51,.56]),(11.2,[.49,.51]),
]
citric_extra_x = [4.6,4.7,4.9,5.0,5.0,5.0,5.0,5.2,5.2,5.3,5.3,5.4,5.2,5.3,5.35,5.4,5.6,5.6,5.6,5.6,5.8,4.95,5.2,5.0,5.35,5.5,9.2,5.8,7.65,13.5,14.3,13.4,14.0,13.7,13.8,15.9,15.6,15.5,15.6,15.0,12.7,12.4,11.9,10.7,9.9,9.7]
citric_extra_y = [.15,.17,0,.5,.24,.24,.04,.26,.18,.19,.27,.27,.04,.03,.11,.08,.37,.78,.5,.26,.66,0,.01,.02,.02,.03,1.0,.21,.76,.79,.74,.62,.63,.68,.67,.65,.76,.49,.49,.44,.45,.72,.69,.22,.07,.17]


def expand(cols, ex, ey):
    xs, ys = list(ex), list(ey)
    for cx, vals in cols:
        xs += [cx] * len(vals)
        ys += vals
    return xs, ys


quality_levels = [(3, quality_3), (4, quality_4), (5, quality_5), (6, quality_6), (7, quality_7), (8, quality_8)]
qx, qy = [], []
for level, vals in quality_levels:
    qx += vals
    qy += [level] * len(vals)

panels = [
    ("Chlorides plotted against Fixed Acidity", expand(chlorides_cols, chlorides_extra_x, chlorides_extra_y), [-0.018, 0.641], [0, .1, .2, .3, .4, .5, .6], ["0.0", "0.1", "0.2", "0.3", "0.4", "0.5", "0.6"]),
    ("Quality plotted against Fixed Acidity", (qx, qy), [2.75, 8.25], [3, 4, 5, 6, 7, 8], ["3", "4", "5", "6", "7", "8"]),
    ("Alcohol plotted against Fixed Acidity", expand(alcohol_cols + alcohol_fill + alcohol_fill_2, alcohol_extra_x, alcohol_extra_y), [8.075, 15.225], [9, 10, 11, 12, 13, 14, 15], ["9", "10", "11", "12", "13", "14", "15"]),
    ("Density plotted against Fixed Acidity", expand(density_cols + density_fill, density_extra_x, density_extra_y), [0.98939, 1.00437], [.990, .992, .994, .996, .998, 1.0, 1.002, 1.004], ["0.990", "0.992", "0.994", "0.996", "0.998", "1.000", "1.002", "1.004"]),
    ("Total Sulfur Dioxide plotted against Fixed Acidity", expand(tsd_cols + tsd_fill, tsd_extra_x, tsd_extra_y), [-8.15, 303.15], [0, 50, 100, 150, 200, 250, 300], ["0", "50", "100", "150", "200", "250", "300"]),
    ("Citric Acid plotted against Fixed Acidity", expand(citric_cols + citric_fill + citric_fill_2, citric_extra_x, citric_extra_y), [-0.05, 1.05], [0, .2, .4, .6, .8, 1.0], ["0.0", "0.2", "0.4", "0.6", "0.8", "1.0"]),
]

W, H = 942, 699
x_dom = [(43.3, 305.3), (358.3, 621.5), (673.3, 936.5)]
y_dom = [(21.0, 318.2), (378.0, 674.8)]
title_y = [20.0, 376.0]

fig = go.Figure()
annotations = []
FONT = "DejaVu Sans"
for i, (title, (xs, ys), yr, yt, ytl) in enumerate(panels):
    r, c = divmod(i, 3)
    n = "" if i == 0 else str(i + 1)
    fig.add_trace(go.Scatter(x=xs, y=ys, mode="markers", xaxis="x" + n, yaxis="y" + n,
                             marker=dict(color="#1f77b4", size=7.5, line=dict(width=0)),
                             showlegend=False, cliponaxis=False))
    common = dict(showgrid=False, zeroline=False, showline=True, linecolor="black", linewidth=1,
                  mirror=True, ticks="outside", ticklen=3.5, tickwidth=0.8, tickcolor="black",
                  tickfont=dict(family=FONT, size=10, color="#1a1a1a"))
    fig.update_layout({
        "xaxis" + n: dict(domain=[x_dom[c][0] / W, x_dom[c][1] / W], range=[4.035, 16.465],
                          tickvals=[6, 8, 10, 12, 14, 16], ticktext=["6", "8", "10", "12", "14", "16"],
                          anchor="y" + n, **common),
        "yaxis" + n: dict(domain=[1 - y_dom[r][1] / H, 1 - y_dom[r][0] / H], range=yr,
                          tickvals=yt, ticktext=ytl, anchor="x" + n, **common),
    })
    annotations.append(dict(text=title, xref="paper", yref="paper", showarrow=False,
                            x=(x_dom[c][0] + x_dom[c][1]) / 2 / W, y=1 - title_y[r] / H,
                            xanchor="center", yanchor="bottom",
                            font=dict(family=FONT, size=12, color="#1a1a1a")))

fig.update_layout(width=W, height=H, margin=dict(l=0, r=0, t=0, b=0), autosize=False,
                  plot_bgcolor="white", paper_bgcolor="white", annotations=annotations)
fig.write_html("out.html", post_script="document.body.style.margin='0';", config={"displayModeBar": False})
